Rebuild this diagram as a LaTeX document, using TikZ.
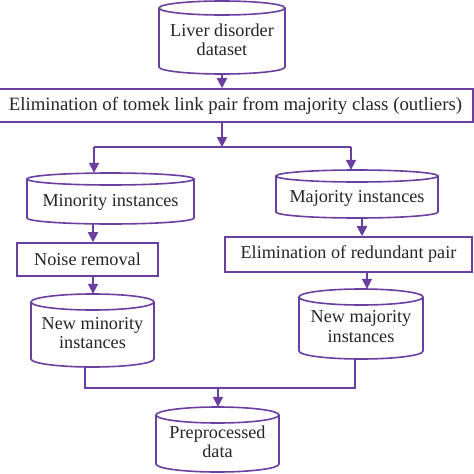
\documentclass[tikz,border=0pt]{standalone}
\usepackage{fontspec}
\setmainfont{Liberation Serif}
\usetikzlibrary{arrows.meta}
\definecolor{pur}{RGB}{107,63,160}
\newcommand\cyl[7]{%
  \pgfmathsetmacro\cxx{(#2+#3)/2}%
  \pgfmathsetmacro\cyy{(#4+#5)/2}%
  \pgfmathsetmacro\rxx{(#3-#2)/2}%
  \node[cyltext, minimum width={#3-#2}, minimum height={#5-#4}] (#1) at (\cxx,\cyy)
    {\raisebox{-4.5pt}[\height][\depth]{\begin{tabular}{@{}c@{}}#7\end{tabular}}};
  \draw[cylline] (#2,#4+#6) -- (#2,#5-#6) arc[start angle=180,end angle=0,x radius=\rxx,y radius=#6] -- (#3,#4+#6);
  \draw[cylline] (\cxx,#4+#6) ellipse[x radius=\rxx, y radius=#6];
}
\begin{document}
\begin{tikzpicture}[x=1pt,y=-1pt,
  line/.style={draw=pur, line width=1.8pt},
  arr/.style={line, -{Triangle[width=10pt,length=10pt]}},
  box/.style={draw=pur, line width=1.6pt, inner sep=0pt, font=\fontsize{18.2}{19.5}\selectfont, text=black!85},
  cyltext/.style={inner sep=0pt, align=center, font=\fontsize{18.2}{19.5}\selectfont, text=black!85},
  cylline/.style={draw=pur, line width=1.6pt}]
\useasboundingbox (0,0) rectangle (474,474);
\fill[white] (0,0) rectangle (474,474);

\cyl{liver}{159}{285}{1}{74}{7}{Liver disorder\\dataset}
\node[box, minimum width=475, minimum height=33, font=\fontsize{18.8}{20}\selectfont] (tomek) at (235.5,105.5) {Elimination of tomek link pair from majority class (outliers)};
\cyl{minority}{27}{194}{173}{224}{6}{Minority instances}
\cyl{majority}{276}{438}{170}{218}{6}{Majority instances}
\node[box, minimum width=141, minimum height=33] (noise) at (87.5,259.5) {Noise removal};
\node[box, minimum width=247, minimum height=35] (redund) at (348.5,254.5) {Elimination of redundant pair};
\cyl{newmin}{31}{154}{294}{367}{8}{New minority\\instances}
\cyl{newmaj}{299}{423}{289}{359}{8}{New majority\\instances}
\cyl{prep}{156}{279}{407}{472}{8}{Preprocessed\\data}

\coordinate (top) at (222,0);
\coordinate (split) at (222,147);
\coordinate (sl) at (94,147);
\coordinate (sr) at (351,147);
\coordinate (c1) at (93,0);
\coordinate (c2) at (362,0);
\coordinate (c3) at (367,0);
\coordinate (ml) at (85,388);
\coordinate (mr) at (355,388);
\coordinate (mm) at (218,388);

\draw[arr] (liver.south) -- (top |- tomek.north);
\draw[arr] (split |- tomek.south) -- (split);
\draw[line] (sl) -- (sr);
\draw[arr] (sl) -- (sl |- minority.north);
\draw[arr] (sr) -- (sr |- majority.north);
\draw[arr] (c1 |- minority.south) -- (c1 |- noise.north);
\draw[arr] (c2 |- majority.south) -- (c2 |- redund.north);
\draw[arr] (c1 |- noise.south) -- (c1 |- newmin.north);
\draw[arr] (c3 |- redund.south) -- (c3 |- newmaj.north);
\draw[line] (ml |- newmin.south) -- (ml) -- (mr) -- (mr |- newmaj.south);
\draw[arr] (mm) -- (mm |- prep.north);
\end{tikzpicture}
\end{document}
